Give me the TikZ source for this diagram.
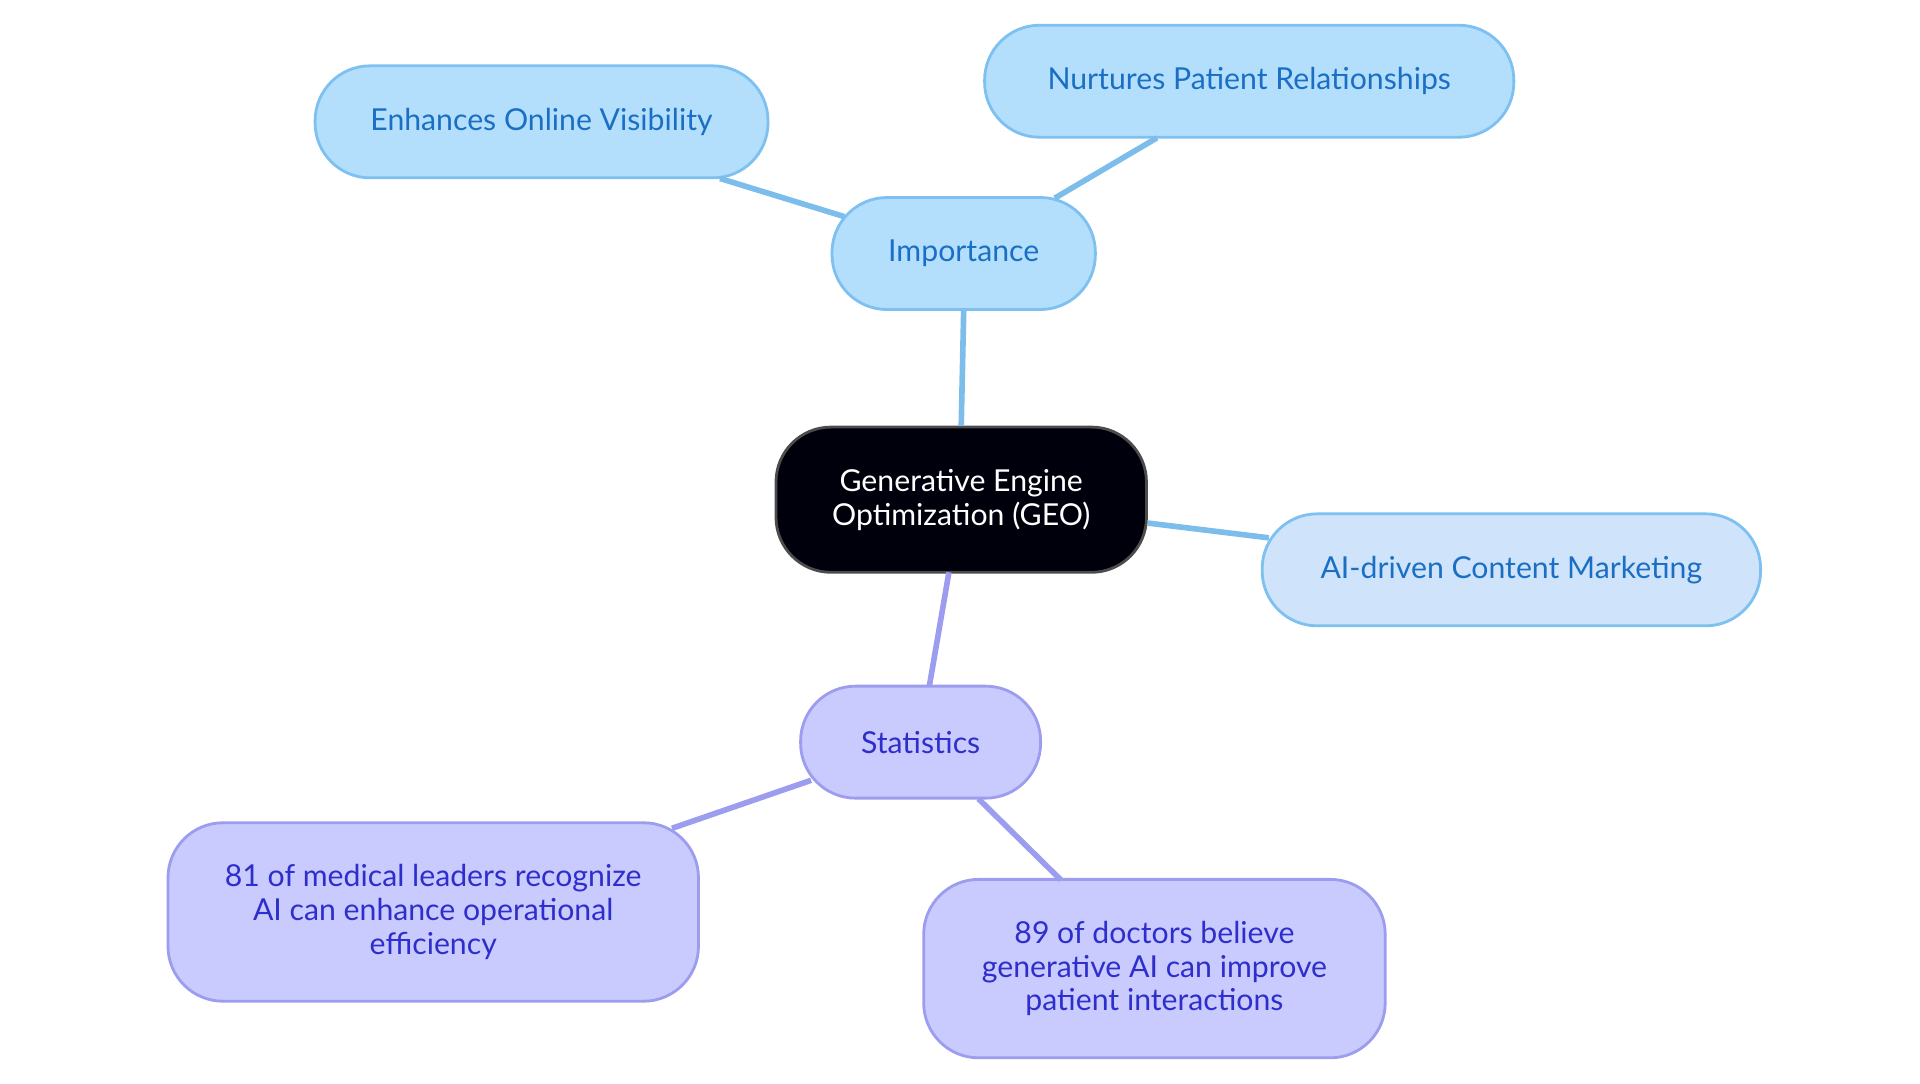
\documentclass[tikz,border=0pt]{standalone}
\usepackage{fontspec}
\setmainfont{Lato}
\begin{document}
\begin{tikzpicture}[x=0.012308cm,y=-0.012308cm,
  base/.style={draw,line width=0.8pt,rounded corners=0.55cm,align=center,inner sep=0pt,font=\fontsize{8.6}{9.6}\selectfont},
  blue/.style={base,fill=blueF,draw=blueD,text=blueT},
  lblue/.style={base,fill=lblueF,draw=blueD,text=blueT},
  purp/.style={base,fill=purF,draw=purD,text=purT},
  be/.style={draw=blueE,line width=1.6pt},
  pe/.style={draw=purD,line width=1.6pt}]
\definecolor{blueF}{HTML}{B3DFFD}\definecolor{blueD}{HTML}{7EC0F0}\definecolor{blueT}{HTML}{1A6FC4}
\definecolor{lblueF}{HTML}{CFE4FB}\definecolor{blueE}{HTML}{7CBDEC}
\definecolor{purF}{HTML}{C9CAFD}\definecolor{purD}{HTML}{9C9DEE}\definecolor{purT}{HTML}{2E2ECC}
\useasboundingbox (0,0) rectangle (1560,880);
\node[base,fill=black!90!blue!50!black,draw=black!70,text=white,minimum width=301*0.012308cm,minimum height=118*0.012308cm] (c) at (781,406) {Generative Engine\\Optimization (GEO)};
\node[blue,minimum width=214*0.012308cm,minimum height=91*0.012308cm] (imp) at (783,206) {Importance};
\node[blue,minimum width=368*0.012308cm,minimum height=91*0.012308cm] (enh) at (440,99) {Enhances Online Visibility};
\node[blue,minimum width=430*0.012308cm,minimum height=91*0.012308cm] (nur) at (1015,66) {Nurtures Patient Relationships};
\node[lblue,minimum width=405*0.012308cm,minimum height=91*0.012308cm] (ai) at (1228,463) {AI-driven Content Marketing};
\node[purp,minimum width=195*0.012308cm,minimum height=91*0.012308cm] (st) at (748,603) {Statistics};
\node[purp,minimum width=431*0.012308cm,minimum height=145*0.012308cm] (s1) at (352,741) {81 of medical leaders recognize\\AI can enhance operational\\efficiency};
\node[purp,minimum width=375*0.012308cm,minimum height=145*0.012308cm] (s2) at (938,787) {89 of doctors believe\\generative AI can improve\\patient interactions};
\begin{scope}[on background layer/.style={}]
\end{scope}
\draw[be] (c.north) -- (imp.south);
\draw[be] (imp) ++(-97,-30) -- (585,145);
\draw[be] (857,161) -- (940,112);
\draw[be] (c.east) ++(0,19) -- (1031,437);
\draw[pe] (771,465) -- (755,558);
\draw[pe] (659,634) -- (546,673);
\draw[pe] (795,649) -- (862,715);
\end{tikzpicture}
\end{document}
